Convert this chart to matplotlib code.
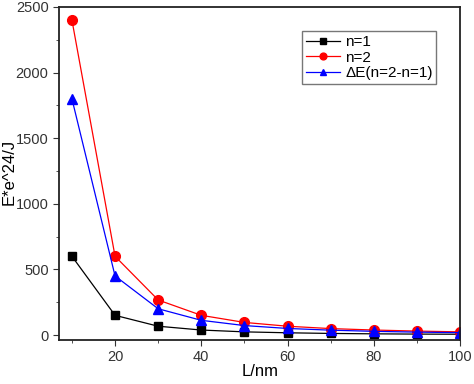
import matplotlib as mpl
mpl.use('Agg')
import matplotlib.pyplot as plt
from matplotlib.ticker import MultipleLocator

plt.rcParams['font.family'] = ['Liberation Sans', 'DejaVu Sans']

# data
L = [10, 20, 30, 40, 50, 60, 70, 80, 90, 100]
n1 = [600, 150, 67, 38, 24, 17, 12, 9, 7, 6]
n2 = [2400, 600, 267, 150, 96, 67, 49, 38, 30, 24]
dE = [1800, 450, 200, 112, 72, 50, 37, 28, 22, 18]

fig = plt.figure(figsize=(4.74, 3.84), dpi=100)
ax = fig.add_axes([59/474, 1-340/384, (460-59)/474, (340-7)/384])

ax.plot(L, n1, color='black', lw=0.9, marker='s', ms=6, label='n=1')
ax.plot(L, n2, color='red', lw=0.9, marker='o', ms=7, label='n=2')
ax.plot(L, dE, color='blue', lw=0.9, marker='^', ms=7, label='\u0394E(n=2-n=1)')

ax.set_xlim(7, 100)
ax.set_ylim(-38, 2500)
ax.xaxis.set_major_locator(MultipleLocator(20))
ax.xaxis.set_minor_locator(MultipleLocator(10))
ax.yaxis.set_major_locator(MultipleLocator(500))
ax.yaxis.set_minor_locator(MultipleLocator(250))
ax.tick_params(which='both', direction='out', labelsize=10.5, colors='#333333',
               top=False, right=False)
ax.tick_params(which='major', length=4)
ax.tick_params(which='minor', length=2.5)
for sp in ax.spines.values():
    sp.set_linewidth(1.3)
    sp.set_color('#222222')

# labels placed by hand, the left margin is tight
fig.text(260/474, 1-372/384, 'L/nm', fontsize=12, ha='center', va='center')
fig.text(9/474, 1-172/384, 'E*e^24/J', fontsize=12, rotation=90,
         ha='center', va='center')

leg = ax.legend(loc='upper right', bbox_to_anchor=(0.96, 0.95), fontsize=11,
                frameon=True, fancybox=False, handlelength=2.2, markerscale=0.7,
                borderpad=0.25, labelspacing=0.1, handletextpad=0.35)
leg.get_frame().set_edgecolor('#555555')
leg.get_frame().set_linewidth(1.0)

fig.savefig('out.png', dpi=100)
